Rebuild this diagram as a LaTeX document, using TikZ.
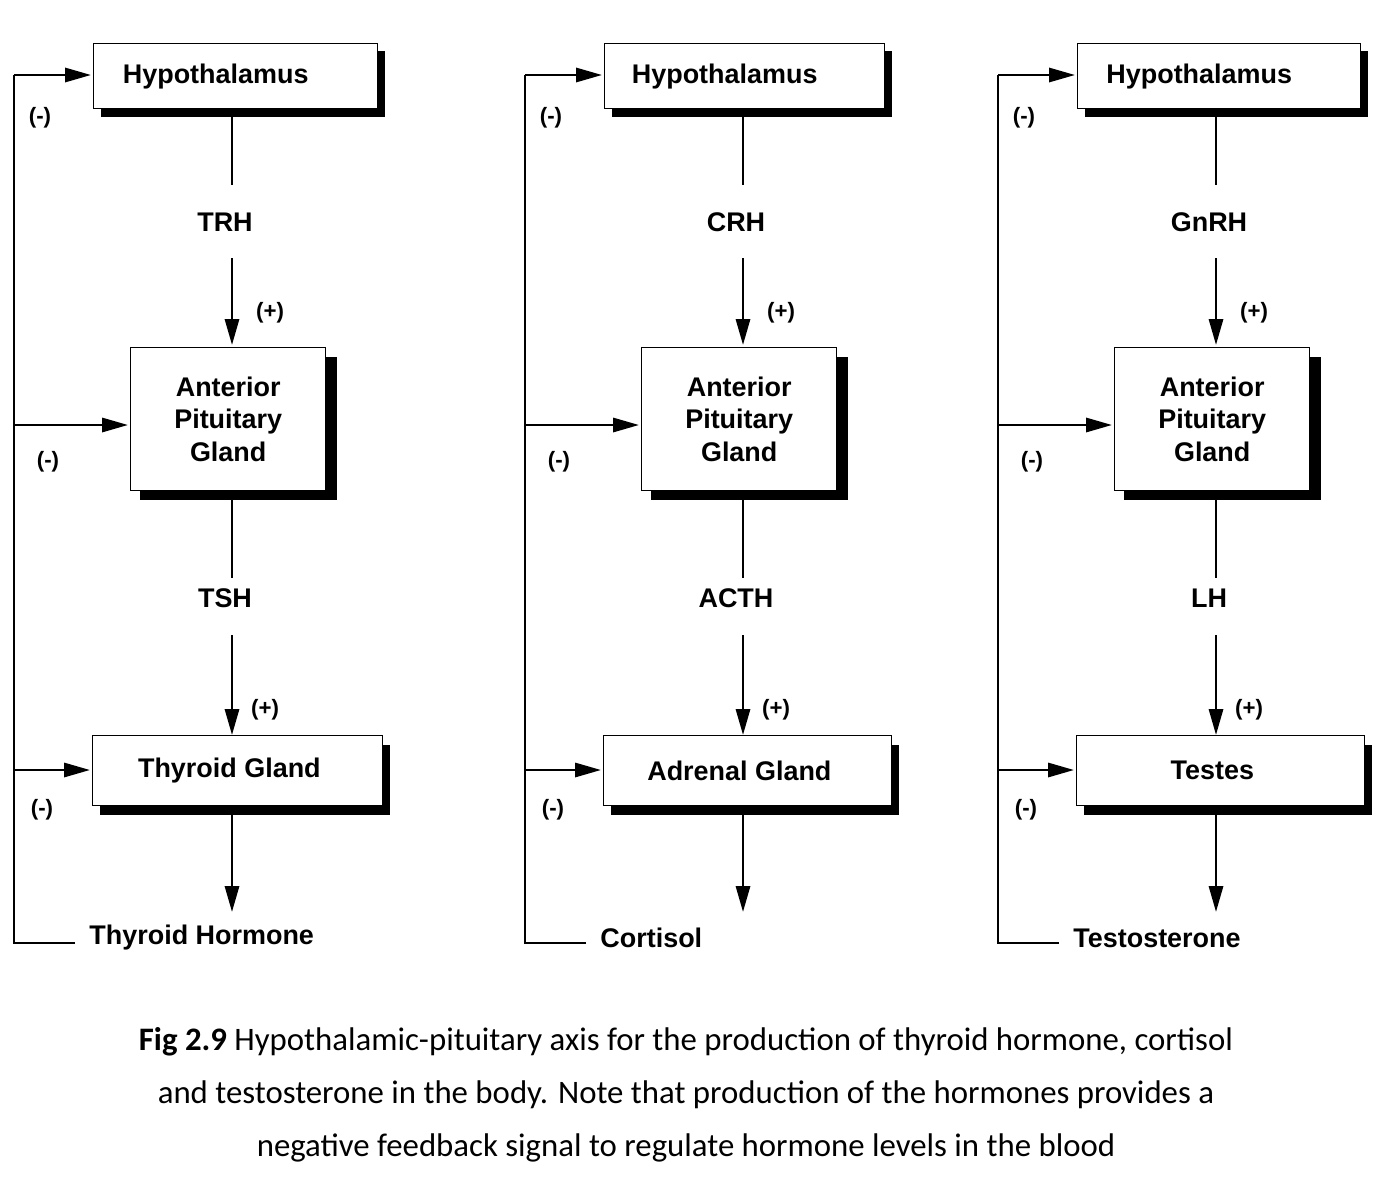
\documentclass[tikz,border=0pt]{standalone}
\usepackage{fontspec}
\setmainfont{Liberation Sans}
\newfontfamily\capfont{Carlito}
\usetikzlibrary{arrows.meta}
\begin{document}
\begin{tikzpicture}[x=0.03cm,y=-0.03cm,
  lbl/.style={font=\fontsize{23}{26}\selectfont\bfseries,inner sep=1pt},
  sml/.style={font=\fontsize{19}{22}\selectfont\bfseries,inner sep=1pt},
  bx/.style={draw,line width=1.2pt,fill=white,font=\fontsize{23}{28}\selectfont\bfseries,align=center,inner sep=0pt},
  ln/.style={line width=2.2pt},
  ar/.style={line width=2.2pt,-{Triangle[length=22pt,width=12pt]}}]
\useasboundingbox (0,0) rectangle (1400,1203);
\fill[white] (0,0) rectangle (1400,1203);
\foreach \myo/\myhw/\mytw/\myrel/\myrelb/\mygl/\myhor/\hx in {0/284/290/TRH/TSH/Thyroid Gland/Thyroid Hormone/a,511/280/288/CRH/ACTH/Adrenal Gland/Cortisol/b,984/283/288/GnRH/LH/Testes/Testosterone/c}{
 \begin{scope}[xshift=\myo*0.03cm]
 \fill (101,51) rectangle ++(\myhw,66);
 \fill (140,357) rectangle (337,500);
 \fill (100,745) rectangle ++(\mytw,70);
 \node[bx,minimum width=\myhw*0.03cm,minimum height=65*0.03cm,anchor=north west] (h\hx) at (93,43) {\hspace*{-1.2cm}Hypothalamus};
 \node[bx,minimum width=195*0.03cm,minimum height=143*0.03cm,anchor=north west] (p\hx) at (130,347) {Anterior\\Pituitary\\Gland};
 \node[bx,minimum width=\mytw*0.03cm,minimum height=70*0.03cm,anchor=north west] (t\hx) at (92,735) {\hspace*{-0.5cm}\mygl};
 \node[lbl] (l1\hx) at (225,222) {\myrel};
 \node[lbl] (l2\hx) at (225,598) {\myrelb};
 \node[lbl,anchor=west] (o\hx) at (88,938) {\myhor};
 \coordinate (a1\hx) at (232,108);
 \coordinate (a2\hx) at (232,185);
 \coordinate (a3\hx) at (232,258);
 \coordinate (a4\hx) at (232,345);
 \coordinate (b1\hx) at (232,490);
 \coordinate (b2\hx) at (232,578);
 \coordinate (b3\hx) at (232,635);
 \coordinate (b4\hx) at (232,735);
 \coordinate (c1\hx) at (232,805);
 \coordinate (c2\hx) at (232,912);
 \draw[ln] (a1\hx) -- (a2\hx);
 \draw[ar] (a3\hx) -- (a4\hx);
 \draw[ln] (b1\hx) -- (b2\hx);
 \draw[ar] (b3\hx) -- (b4\hx);
 \draw[ar] (c1\hx) -- (c2\hx);
 \node[sml] at (270,313) {(+)};
 \node[sml] at (265,710) {(+)};
 \coordinate (f0\hx) at (75,943);
 \coordinate (f1\hx) at (14,943);
 \coordinate (f2\hx) at (14,75);
 \coordinate (g1\hx) at (14,425);
 \coordinate (g2\hx) at (14,770);
 \draw[line width=2pt] (f0\hx) -- (f1\hx) -- (f2\hx);
 \draw[ar] (f2\hx) -- (91,75);
 \draw[ar] (g1\hx) -- (128,425);
 \draw[ar] (g2\hx) -- (90,770);
 \node[sml] at (40,118) {(-)};
 \node[sml] at (48,462) {(-)};
 \node[sml] at (42,810) {(-)};
 \end{scope}}
\node[font=\capfont\fontsize{28}{45}\selectfont,align=center] (cap) at (686,1095) {\textbf{Fig 2.9} Hypothalamic-pituitary axis for the production of thyroid hormone, cortisol\\and testosterone in the body. Note that production of the hormones provides a\\negative feedback signal to regulate hormone levels in the blood};
\end{tikzpicture}
\end{document}
